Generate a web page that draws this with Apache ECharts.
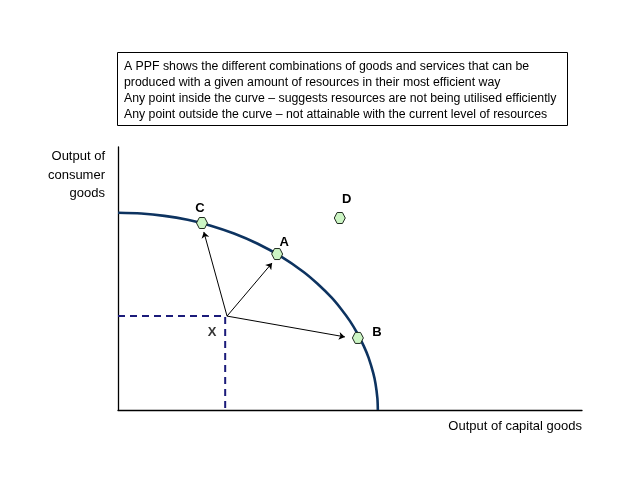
<!DOCTYPE html>
<html><head><meta charset="utf-8">
<script src="https://cdn.jsdelivr.net/npm/echarts@6/dist/echarts.min.js"></script>
<style>html,body{margin:0;padding:0;background:#fff}#c{width:638px;height:479px}</style>
</head><body><div id="c"></div>
<script>
// PPF curve points (x = capital goods, y = consumer goods)
const curveX = [0, 5, 10, 15, 20, 25, 30, 35, 40, 43, 46, 48, 50, 51.5, 53, 54, 55, 55.5, 55.9, 56];
const curveY = [75, 74.7, 73.8, 72.3, 70.1, 67.1, 63.3, 58.5, 52.5, 48.0, 42.8, 38.6, 33.8, 29.4, 24.2, 19.9, 14.1, 10.0, 4.5, 0];
// Labelled points
const pointNames = ['C', 'A', 'B', 'D'];
const pointX = [18.1, 34.3, 51.7, 47.8];
const pointY = [71.1, 59.3, 27.4, 73.0];
// Point X (inefficient) and its guide lines
const pointXName = 'X';
const xPoint = [23.1, 35.7];
// Arrows from X towards C, A, B
const arrowStart = [23.5, 35.7];
const arrowEndsX = [18.5, 33.2, 48.9];
const arrowEndsY = [67.7, 55.9, 27.8];
const boxLines = [
  'A PPF shows the different combinations of goods and services that can be',
  'produced with a given amount of resources in their most efficient way',
  'Any point inside the curve \u2013 suggests resources are not being utilised efficiently',
  'Any point outside the curve \u2013 not attainable with the current level of resources'
];
const yAxisNameLines = ['Output of', 'consumer', 'goods'];
const xAxisName = 'Output of capital goods';

const font = '"Liberation Sans", Arial, sans-serif';
const chart = echarts.init(document.getElementById('c'));
const hex = 'path://M0,5 L2.6,0.5 L7.4,0.5 L10,5 L7.4,9.5 L2.6,9.5 Z';
const labelPos = {C: [-2, -15], A: [7, -12], B: [19, -6], D: [7, -19]};

const graphics = [
  {type: 'rect', left: 117, top: 52, shape: {width: 450, height: 73},
    style: {fill: '#fff', stroke: '#000', lineWidth: 1}},
  {type: 'text', left: 124, top: 59,
    style: {text: boxLines.join('\n'), font: '12.3px ' + font, lineHeight: 16, fill: '#000'}},
  {type: 'text', right: 638 - 582, top: 420,
    style: {text: xAxisName, font: '13px ' + font, fill: '#000'}}
];
yAxisNameLines.forEach((t, i) => graphics.push({type: 'text', right: 638 - 105, top: 150 + i * 18.5,
  style: {text: t, font: '13px ' + font, fill: '#000'}}));

chart.setOption({
  animation: false,
  grid: {left: 118, top: 147, right: 56, bottom: 69},
  xAxis: {type: 'value', min: 0, max: 100, axisTick: {show: false}, axisLabel: {show: false}, splitLine: {show: false},
    axisLine: {lineStyle: {color: '#000', width: 1.3}}},
  yAxis: {type: 'value', min: 0, max: 100, axisTick: {show: false}, axisLabel: {show: false}, splitLine: {show: false},
    axisLine: {lineStyle: {color: '#000', width: 1.3}}},
  graphic: graphics,
  series: [
    {type: 'line', data: [[0, xPoint[1]], [xPoint[0], xPoint[1]], [xPoint[0], 0]], symbol: 'none',
      lineStyle: {color: '#1b1b7a', width: 2, type: [7, 5]}, z: 2},
    {type: 'line', smooth: 0.3, data: curveX.map((x, i) => [x, curveY[i]]), symbol: 'none',
      lineStyle: {color: '#0d3360', width: 2.6}, z: 3},
    {type: 'lines', coordinateSystem: 'cartesian2d', symbol: ['none', 'arrow'], symbolSize: 6,
      lineStyle: {color: '#000', width: 1, opacity: 1},
      data: arrowEndsX.map((x, i) => ({coords: [arrowStart, [x, arrowEndsY[i]]]})), z: 4},
    {type: 'scatter', symbol: hex, symbolSize: 11,
      itemStyle: {color: '#ccf5c4', borderColor: '#1f2a1f', borderWidth: 1, opacity: 1},
      data: pointNames.map((n, i) => ({name: n, value: [pointX[i], pointY[i]],
        label: {show: true, formatter: n, position: 'inside', offset: labelPos[n],
          fontFamily: font, fontSize: 13, fontWeight: 'bold', color: '#000'}})), z: 5},
    {type: 'scatter', symbolSize: 0, data: [{name: pointXName, value: xPoint,
      label: {show: true, formatter: pointXName, position: 'inside', offset: [-13, 16],
        fontFamily: font, fontSize: 13, fontWeight: 'bold', color: '#000'}}], z: 5}
  ]
});
</script></body></html>
